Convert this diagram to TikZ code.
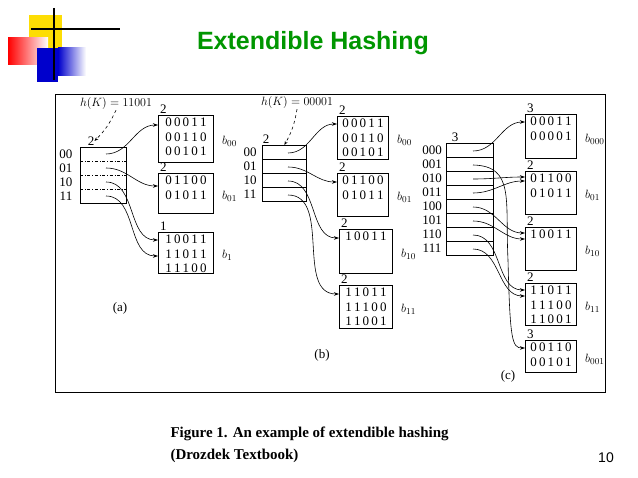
\documentclass[tikz,border=0pt]{standalone}
\usepackage{fontspec}
\setmainfont{Liberation Serif}
\newfontfamily\titlefont{Liberation Sans}
\usetikzlibrary{arrows.meta,shadings}
\definecolor{ttl}{RGB}{0,150,0}
\begin{document}
\begin{tikzpicture}[x=1pt,y=-1pt,
  dig/.style={font=\fontsize{13}{14.5}\selectfont,inner sep=0pt},
  bk/.style={draw,line width=0.9pt,anchor=north west,inner sep=0pt},
  bl/.style={font=\fontsize{13}{14}\selectfont\itshape,anchor=west,inner sep=0pt},
  row/.style={draw,line width=0.8pt,minimum height=14pt,inner sep=0pt,anchor=north west},
  arr/.style={-{Stealth[length=5pt,width=3.5pt]},line width=0.6pt},
  ]
\useasboundingbox (0,0) rectangle (638,478);
% logo
\fill[yellow!80!orange] (29,15) rectangle (62,50);
\shade[left color=red, right color=white] (8,38) rectangle (48,65);
\fill[blue!80!black] (37,48) rectangle (58,82);
\shade[left color=blue!80!black, right color=white] (58,48) rectangle (86,76);
\draw[line width=2.2pt] (54,8) -- (54,80);
\draw[line width=2.2pt] (31,29) -- (120,29);
\node[font=\titlefont\bfseries\fontsize{25}{28}\selectfont,text=ttl] (title) at (313,43) {Extendible Hashing};
% frame
\draw[line width=0.8pt] (55,94) rectangle (605,392);
% caption
\node[font=\bfseries\fontsize{15}{22}\selectfont,align=left,anchor=north west] (cap) at (167,423) {Figure 1. An example of extendible hashing\\(Drozdek Textbook)};
\node[font=\titlefont\fontsize{14}{16}\selectfont] (pg) at (606,458) {10};

\newcommand\mkbucket[8]{% name,x,y,w,h,depth,contents,label
  \node[bk,minimum width=#4pt,minimum height=#5pt] (#1) at (#2,#3) {};
  \node[dig,anchor=south west] (#1d) at (#2+2,#3-1) {#6};
  \node[dig,anchor=north,align=left] (#1c) at ([yshift=-3pt]#1.north) {#7};
  \node[bl] (#1l) at (#2+#4+9,#3+#5/2+3) {#8};}

% ---------- (a)
\node[draw,line width=0.9pt,minimum width=46pt,minimum height=56pt,anchor=north west,inner sep=0pt] (da) at (80,147) {};
\foreach \y in {161,175,189}{\draw[dash dot,line width=0.5pt] (80,\y) -- (126,\y);}
\node[dig] (dad) at (91,141) {2};
\foreach \t/\y/\n in {00/154/0,01/168/1,10/182/2,11/196/3}{
  \node[dig] (la\n) at (66,\y) {\t};
  \coordinate (ca\n) at (106,\y);}
\node[font=\fontsize{12}{13}\selectfont,inner sep=0pt] (hka) at (116,104) {$h(K) = 11001$};
\draw[dashed,-{Stealth[length=4pt]},line width=0.6pt] (hka.south) to[bend left=10] (dad.east);
\mkbucket{ba0}{158}{115}{55}{47}{2}{0\,0\,0\,1\,1\\0\,0\,1\,1\,0\\0\,0\,1\,0\,1}{$b_{00}$}
\mkbucket{ba1}{158}{173}{55}{40}{2}{0\,1\,1\,0\,0\\0\,1\,0\,1\,1}{$b_{01}$}
\mkbucket{ba2}{158}{232}{55}{41}{1}{1\,0\,0\,1\,1\\1\,1\,0\,1\,1\\1\,1\,1\,0\,0}{$b_{1}$}
\draw[arr] (ca0) to[out=0,in=180] (ba0.west|-0,125);
\draw[arr] (ca1) to[out=0,in=180] (ba1.west|-0,186);
\draw[arr] (ca2) to[out=0,in=180] (ba2.west|-0,240);
\draw[arr] (ca3) to[out=0,in=180] (ba2.west|-0,256);
\node[dig] (capa) at (120,308) {(a)};

% ---------- (b)
\foreach \t/\y/\n in {00/145/0,01/159/1,10/173/2,11/187/3}{
  \node[row,minimum width=44pt] (rb\n) at (262,\y) {};
  \node[dig] (lb\n) at (250,\y+7) {\t};
  \coordinate (cb\n) at (288,\y+8);}
\node[dig] (dbd) at (266,139) {2};
\node[font=\fontsize{12}{13}\selectfont,inner sep=0pt] (hkb) at (297,103) {$h(K) = 00001$};
\draw[dashed,-{Stealth[length=4pt]},line width=0.6pt] (hkb.south) to[bend left=10] (rb0.north);
\mkbucket{bb0}{337}{116}{51}{43}{2}{0\,0\,0\,1\,1\\0\,0\,1\,1\,0\\0\,0\,1\,0\,1}{$b_{00}$}
\mkbucket{bb1}{337}{173}{51}{43}{2}{0\,1\,1\,0\,0\\0\,1\,0\,1\,1}{$b_{01}$}
\mkbucket{bb2}{339}{229}{53}{44}{2}{1\,0\,0\,1\,1}{$b_{10}$}
\mkbucket{bb3}{339}{285}{53}{43}{2}{1\,1\,0\,1\,1\\1\,1\,1\,0\,0\\1\,1\,0\,0\,1}{$b_{11}$}
\draw[arr] (cb0) to[out=0,in=180] (bb0.west|-0,124);
\draw[arr] (cb1) to[out=0,in=180] (bb1.west|-0,182);
\draw[arr] (cb2) to[out=0,in=180] (bb2.west|-0,238);
\draw[arr] (cb3) to[out=0,in=180] (bb3.west|-0,294);
\node[dig] (capb) at (322,355) {(b)};

% ---------- (c)
\foreach \t/\n in {000/0,001/1,010/2,011/3,100/4,101/5,110/6,111/7}{
  \node[row,minimum width=47pt] (rc\n) at (446,143+14*\n) {};
  \node[dig] (lc\n) at (432,150+14*\n) {\t};
  \coordinate (cc\n) at (473,151+14*\n);}
\node[dig] (dcd) at (455,137) {3};
\mkbucket{bc0}{525}{114}{51}{44}{3}{0\,0\,0\,1\,1\\0\,0\,0\,0\,1}{$b_{000}$}
\mkbucket{bc2}{525}{171}{51}{43}{2}{0\,1\,1\,0\,0\\0\,1\,0\,1\,1}{$b_{01}$}
\mkbucket{bc4}{525}{227}{51}{43}{2}{1\,0\,0\,1\,1}{$b_{10}$}
\mkbucket{bc6}{525}{283}{51}{42}{2}{1\,1\,0\,1\,1\\1\,1\,1\,0\,0\\1\,1\,0\,0\,1}{$b_{11}$}
\mkbucket{bc1}{525}{340}{51}{32}{3}{0\,0\,1\,1\,0\\0\,0\,1\,0\,1}{$b_{001}$}
\draw[arr] (cc0) to[out=0,in=180] (bc0.west|-0,122);
\draw[arr] (cc1) .. controls (515,166) and (505,200) .. (508,260) .. controls (510,340) and (512,348) .. (bc1.west|-0,348);
\draw[arr] (cc2) to[out=0,in=180] (bc2.west|-0,177);
\draw[arr] (cc3) to[out=0,in=180] (bc2.west|-0,181);
\draw[arr] (cc4) to[out=0,in=180] (bc4.west|-0,233);
\draw[arr] (cc5) to[out=0,in=180] (bc4.west|-0,239);
\draw[arr] (cc6) to[out=0,in=180] (bc6.west|-0,290);
\draw[arr] (cc7) to[out=0,in=180] (bc6.west|-0,296);
\node[dig] (capc) at (508,376) {(c)};
\end{tikzpicture}
\end{document}
